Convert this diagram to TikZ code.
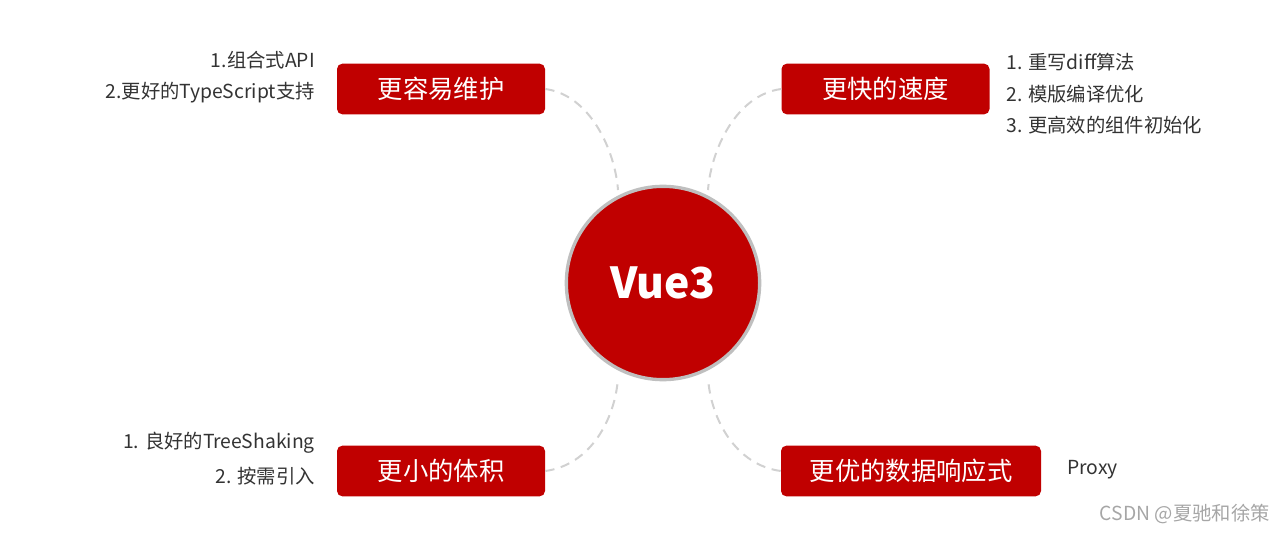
\documentclass[tikz,border=0pt]{standalone}
\usepackage{fontspec}
\newfontfamily\cjk{Noto Sans CJK SC}
\begin{document}
\begin{tikzpicture}[x=0.75pt,y=-0.75pt,font=\cjk,
  box/.style={fill=vred,rounded corners=4pt,text=white,font=\cjk\fontsize{19}{22}\selectfont,inner sep=0pt,minimum height=38pt},
  lbl/.style={font=\cjk\fontsize{14.5}{17}\selectfont,text=black!80,inner sep=0pt},
  link/.style={draw=black!18,line width=1.5pt,dashed,dash pattern=on 7pt off 5pt}]
\definecolor{vred}{HTML}{C00000}
\useasboundingbox (0,0) rectangle (1275,535);
\node[circle,fill=vred,draw=black!25,line width=2.5pt,minimum size=145pt,text=white,font=\cjk\bfseries\fontsize{32}{36}\selectfont] (c) at (663,283) {Vue3};
\node[box,minimum width=156pt] (b1) at (441,89) {更容易维护};
\node[box,minimum width=156pt] (b2) at (885.5,89) {更快的速度};
\node[box,minimum width=156pt] (b3) at (441,471) {更小的体积};
\node[box,minimum width=195pt] (b4) at (911,471) {更优的数据响应式};
\coordinate (c1) at (618,190); \coordinate (c2) at (708,190);
\coordinate (c3) at (618,378); \coordinate (c4) at (708,378);
\draw[link] (b1.east) .. controls (590,95) and (615,150) .. (c1);
\draw[link] (b2.west) .. controls (736,95) and (711,150) .. (c2);
\draw[link] (b3.east) .. controls (590,465) and (615,420) .. (c3);
\draw[link] (b4.west) .. controls (736,465) and (711,420) .. (c4);
\node[lbl,anchor=east] (t1) at (315,60) {1.组合式API};
\node[lbl,anchor=east] (t2) at (315,93) {2.更好的TypeScript支持};
\node[lbl,anchor=west] (t3) at (1006,62) {1. 重写diff算法};
\node[lbl,anchor=west] (t4) at (1006,94) {2. 模版编译优化};
\node[lbl,anchor=west] (t5) at (1006,125) {3. 更高效的组件初始化};
\node[lbl,anchor=east] (t6) at (315,443) {1. 良好的TreeShaking};
\node[lbl,anchor=east] (t7) at (315,476) {2. 按需引入};
\node[lbl,anchor=west] (t8) at (1067,470) {Proxy};
\node[lbl,anchor=east,text=black!35] (w) at (1270,514) {CSDN @夏驰和徐策};
\end{tikzpicture}
\end{document}
